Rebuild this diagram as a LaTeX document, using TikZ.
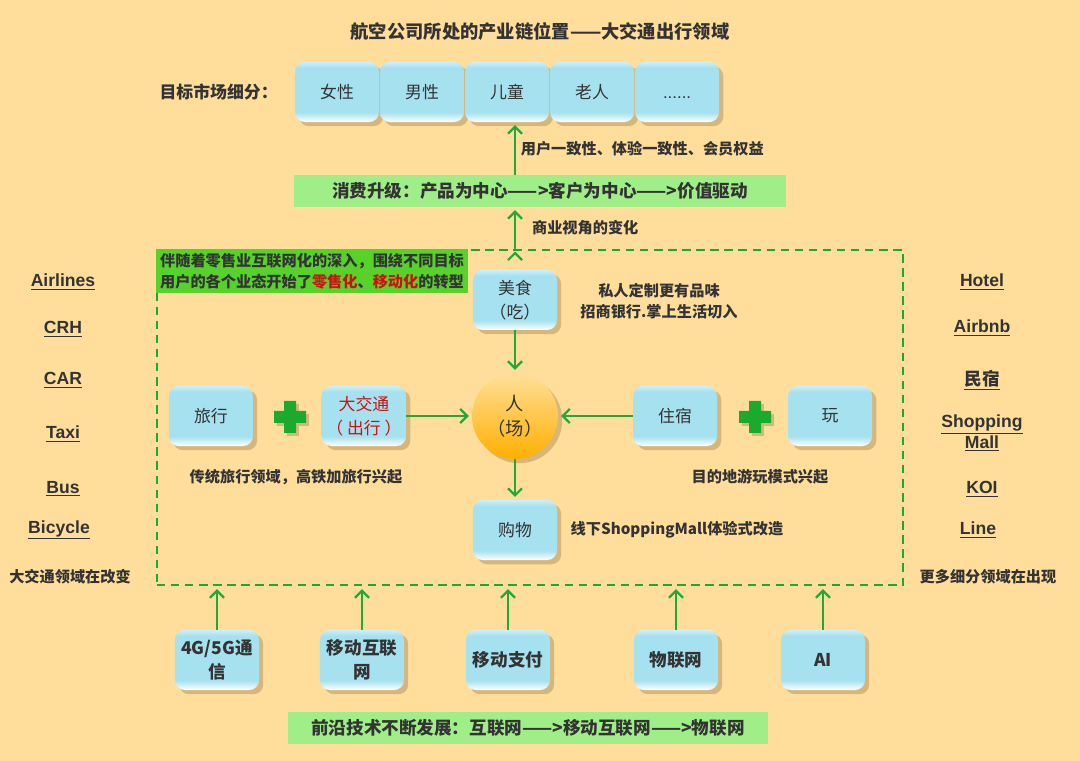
\documentclass[tikz,border=0pt]{standalone}
\usepackage{fontspec}
\setmainfont{Noto Sans CJK SC}
\newfontfamily\latinfont{Liberation Sans}
\usepackage{tikz}
\usetikzlibrary{positioning, arrows.meta, shadows}

\definecolor{bgorange}{RGB}{255,222,155}
\definecolor{boxblue}{RGB}{166,225,240}
\definecolor{boxtop}{RGB}{205,240,249}
\definecolor{barlight}{RGB}{160,238,136}
\definecolor{barstrong}{RGB}{86,210,42}
\definecolor{arrowgreen}{RGB}{34,168,58}
\definecolor{plusgreen}{RGB}{26,170,46}
\definecolor{darktext}{RGB}{51,51,51}
\definecolor{redtext}{RGB}{204,17,17}
\definecolor{ballorange}{RGB}{255,176,0}

\pgfdeclareverticalshading{boxshade}{100bp}{color(0bp)=(white); color(25bp)=(white); color(33bp)=(boxblue); color(70bp)=(boxblue); color(75bp)=(boxtop); color(100bp)=(boxtop)}

\begin{document}
\begin{tikzpicture}[x=0.025cm, y=-0.025cm, node distance=2.125cm, on grid,
    box/.style={rounded corners=7pt, shading=boxshade, minimum width=2.1cm, minimum height=1.5cm,
      align=center, text=darktext, font=\fontsize{12}{17}\selectfont,
      drop shadow={shadow xshift=3pt, shadow yshift=-3pt, opacity=0.25, fill=brown!50!black}},
    tech/.style={box, font=\bfseries\fontsize{12.5}{17}\selectfont},
    hub/.style={circle, minimum size=2.15cm, top color=ballorange!40!white, middle color=ballorange,
      bottom color=ballorange, text=darktext, align=center, font=\fontsize{13}{18}\selectfont,
      drop shadow={shadow xshift=3pt, shadow yshift=-3pt, opacity=0.25, fill=brown!50!black}},
    greenbar/.style={fill=barlight, text=darktext, font=\bfseries\fontsize{12.5}{15}\selectfont, minimum height=0.8cm},
    note/.style={fill=barstrong, text=darktext, align=left, inner sep=3pt, font=\bfseries\fontsize{10.8}{15}\selectfont},
    lbl/.style={text=darktext, align=center, font=\bfseries\fontsize{10.8}{15}\selectfont},
    item/.style={text=darktext, align=center, font=\latinfont\bfseries\fontsize{12.5}{15}\selectfont},
    arr/.style={draw=arrowgreen, line width=1.6pt, shorten >=2pt, -{Straight Barb[length=5pt, width=10pt]}},
    dashframe/.style={draw=plusgreen, line width=1.8pt, dash pattern=on 6pt off 4pt},
    plusmark/.style={fill=plusgreen, drop shadow={shadow xshift=2pt, shadow yshift=-2pt, opacity=0.25, fill=brown!50!black}}]

    \fill[bgorange] (0,0) rectangle (1080,761);
    \useasboundingbox (0,0) rectangle (1080,761);

    % Title and market segments
    \node[font=\bfseries\fontsize{13}{16}\selectfont, text=darktext] (title) at (540,32) {航空公司所处的产业链位置——大交通出行领域};
    \node[box] (nvxing) at (337,92) {女性};
    \node[box, right=of nvxing] (nanxing) {男性};
    \node[box, right=of nanxing] (ertong) {儿童};
    \node[box, right=of ertong] (laoren) {老人};
    \node[box, right=of laoren] (more) {{\latinfont ......}\vphantom{老人}};
    \node[text=darktext, font=\bfseries\fontsize{12}{15}\selectfont, anchor=east] (segment) at ([xshift=-0.3cm]nvxing.west) {目标市场细分：};

    % Consumption upgrade bar
    \node[greenbar, minimum width=12.275cm] (xf) at (540,191) {消费升级：产品为中心——>客户为中心——>价值驱动};

    % Industry frame
    \node[dashframe, minimum width=18.65cm, minimum height=8.375cm] (dashbox) at (530,417.5) {};
    \node[note, anchor=north west] (retail) at (dashbox.north west)
        {伴随着零售业互联网化的深入，围绕不同目标\\用户的各个业态开始了{\color{redtext}零售化}、{\color{redtext}移动化}的转型};

    % People in the middle
    \node[hub] (hub) at (515,416) {人\\（场）};
    \node[box, above=2.9cm of hub] (meishi) {美食\\（吃）};
    \node[box, below=2.85cm of hub] (gouwu) {购物};
    \node[box, left=3.775cm of hub, text=redtext] (jiaotong) {大交通\\（ 出行 ）};
    \node[box, left=3.825cm of jiaotong] (lvxing) {旅行};
    \node[box, right=4cm of hub] (zhusu) {住宿};
    \node[box, right=3.875cm of zhusu] (wan) {玩};
    \coordinate (plusl) at (290,417);
    \coordinate (plusr) at (755,417);
    \fill[plusmark] (plusl) ++(-6,-16) -- ++(12,0) -- ++(0,10) -- ++(10,0) -- ++(0,12) -- ++(-10,0) -- ++(0,10)
        -- ++(-12,0) -- ++(0,-10) -- ++(-10,0) -- ++(0,-12) -- ++(10,0) -- cycle;
    \fill[plusmark] (plusr) ++(-6,-16) -- ++(12,0) -- ++(0,10) -- ++(10,0) -- ++(0,12) -- ++(-10,0) -- ++(0,10)
        -- ++(-12,0) -- ++(0,-10) -- ++(-10,0) -- ++(0,-12) -- ++(10,0) -- cycle;

    \node[lbl] (taste) at (659,301) {私人定制更有品味\\招商银行.掌上生活切入};
    \node[lbl] (rail) at (296,477) {传统旅行领域，高铁加旅行兴起};
    \node[lbl] (dest) at (760,477) {目的地游玩模式兴起};
    \node[lbl, anchor=west] (mall) at ([xshift=6pt]gouwu.east) {线下ShoppingMall体验式改造};

    % Transport list
    \node[item] (airlines) at (63,282) {\underline{Airlines}};
    \node[item] (crh) at (63,329) {\underline{CRH}};
    \node[item] (car) at (63,380) {\underline{CAR}};
    \node[item] (taxi) at (63,434) {\underline{Taxi}};
    \node[item] (bus) at (63,489) {\underline{Bus}};
    \node[item] (bicycle) at (59,530) {\underline{Bicycle}};
    \node[lbl] (change) at (70,577) {大交通领域在改变};

    % Other fields list
    \node[item] (hotel) at (982,282) {\underline{Hotel}};
    \node[item] (airbnb) at (982,328) {\underline{Airbnb}};
    \node[item, font=\bfseries\fontsize{12.5}{15}\selectfont] (minsu) at (982,380) {\underline{民宿}};
    \node[item] (shopping) at (982,433) {\underline{Shopping}\\\underline{Mall}};
    \node[item] (koi) at (982,489) {\underline{KOI}};
    \node[item] (line) at (978,530) {\underline{Line}};
    \node[lbl] (appear) at (988,577) {更多细分领域在出现};

    % Technology row
    \node[tech] (t1) at (217,660) {4G/5G通\\信};
    \node[tech] (t2) at (362,660) {移动互联\\网};
    \node[tech] (t3) at (508,660) {移动支付};
    \node[tech] (t4) at (676,660) {物联网};
    \node[tech] (t5) at (823,660) {AI};
    \node[greenbar, minimum width=12cm] (qy) at (528,728) {前沿技术不断发展：互联网——>移动互联网——>物联网};

    \path[arr]
        % Upward chain
        (meishi |- xf.north) edge node[lbl, right] {用户一致性、体验一致性、会员权益} (meishi |- ertong.south)
        (meishi |- dashbox.north) edge node[lbl, right=8pt] {商业视角的变化} (meishi |- xf.south)

        % Into and out of the hub
        (meishi) edge (hub)
        (jiaotong) edge (hub)
        (zhusu) edge (hub)
        (hub) edge (gouwu)

        % Technologies push the frame
        (t1) edge (t1 |- dashbox.south)
        (t2) edge (t2 |- dashbox.south)
        (t3) edge (t3 |- dashbox.south)
        (t4) edge (t4 |- dashbox.south)
        (t5) edge (t5 |- dashbox.south);
\end{tikzpicture}
\end{document}
